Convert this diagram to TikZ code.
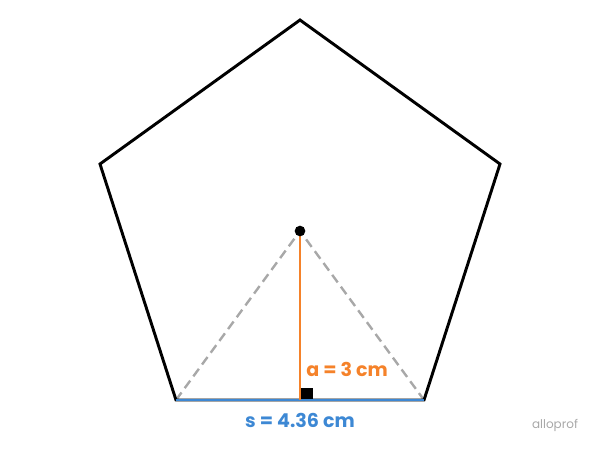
\documentclass[tikz,border=0pt]{standalone}
\usepackage{fontspec}
\setmainfont{Poppins}
\definecolor{aorange}{HTML}{F5822A}
\definecolor{ablue}{HTML}{3D88D4}
\definecolor{agray}{HTML}{A8A8A8}
\begin{document}
\begin{tikzpicture}[x=0.75pt,y=-0.75pt,
  edge/.style={line width=2.2pt,black,line join=miter},
  lbl/.style={font=\fontsize{14.3}{17}\selectfont\bfseries, inner sep=0pt}]
\useasboundingbox (0,0) rectangle (600,450);
\coordinate (T) at (300,20);
\coordinate (L) at (100,164);
\coordinate (R) at (500,164);
\coordinate (BL) at (176,400);
\coordinate (BR) at (424,400);
\coordinate (C) at (300,231);
\coordinate (M) at (300,400);
\draw[agray,line width=1.8pt,dash pattern=on 7pt off 4pt] (BL) -- (C) -- (BR);
\draw[edge] (T) -- (R) -- (BR) -- (BL) -- (L) -- cycle;
\draw[ablue,line width=2.2pt] (BL) -- (BR);
\draw[aorange,line width=2.2pt] (C) -- (M);
\fill[black] (301,388) rectangle (312.5,399);
\fill[black] (C) circle (4pt);
\node[lbl,text=aorange,anchor=west] (a) at (306,369) {a = 3 cm};
\node[lbl,text=ablue] (s) at (300,420) {s = 4.36 cm};
\node[font=\fontsize{9}{10}\selectfont,text=agray] (logo) at (555,425) {alloprof};
\end{tikzpicture}
\end{document}
